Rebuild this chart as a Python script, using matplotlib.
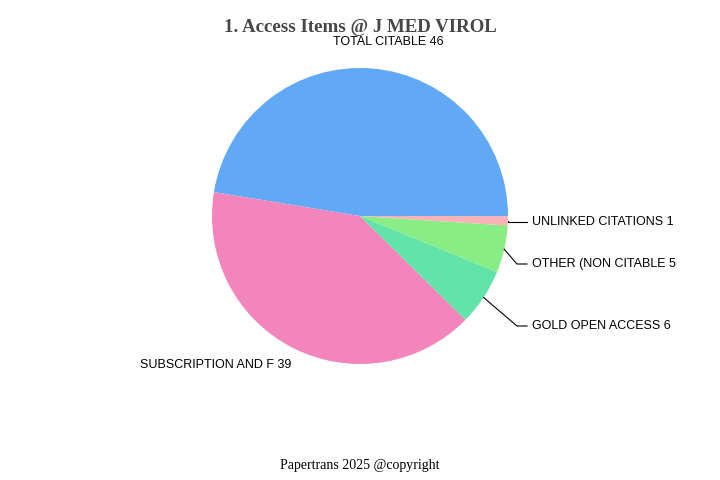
import matplotlib.pyplot as plt
import numpy as np

labels = ['TOTAL CITABLE', 'SUBSCRIPTION AND F', 'GOLD OPEN ACCESS',
          'OTHER (NON CITABLE', 'UNLINKED CITATIONS']
values = [46, 39, 6, 5, 1]
colors = ['#61a9f5', '#f385bd', '#62e3aa', '#88ed84', '#f8b3b6']

W, H = 720, 480
fig = plt.figure(figsize=(7.2, 4.8), dpi=100)
# pie centre ~ (360, 216) px from top, radius ~148 px
ax = fig.add_axes([212 / W, (H - 216 - 148) / H, 296 / W, 296 / H])
wedges, _ = ax.pie(values, colors=colors, startangle=0, counterclock=True,
                   radius=1, wedgeprops=dict(linewidth=0))
ax.set_xlim(-1, 1)
ax.set_ylim(-1, 1)
ax.set_aspect('equal')
ax.axis('off')


def px(x, y):
    # pixel coords (top origin) -> figure fraction
    return x / W, 1 - y / H


lab_font = dict(family='Liberation Sans', fontsize=9, color='#000000')

# labels without leader lines
fig.text(*px(388, 42), f'{labels[0]} {values[0]}', ha='center', va='center', **lab_font)
fig.text(*px(216, 365), f'{labels[1]} {values[1]}', ha='center', va='center', **lab_font)

# labels with leader lines (small slices on the right)
text_y = {2: 326, 3: 264, 4: 222}
for i in [2, 3, 4]:
    w = wedges[i]
    mid = np.deg2rad((w.theta1 + w.theta2) / 2)
    ex, ey = ax.transData.transform((np.cos(mid), np.sin(mid)))
    ey = H - ey
    ty = text_y[i]
    xs = [ex, 517 if abs(ty - ey) > 3 else ex, 527]
    ys = [ey, ty, ty]
    fx = [x / W for x in xs]
    fy = [1 - y / H for y in ys]
    fig.add_artist(plt.Line2D(fx, fy, transform=fig.transFigure, color='black', linewidth=0.8))
    fig.text(*px(532, ty), f'{labels[i]} {values[i]}', ha='left', va='center', **lab_font)

fig.text(*px(360, 27), '1. Access Items @ J MED VIROL', ha='center', va='center',
         family='Liberation Serif', fontsize=13.6, fontweight='bold', color='#464646')
fig.text(*px(360, 466), 'Papertrans 2025 @copyright', ha='center', va='center',
         family='Liberation Serif', fontsize=10, color='#000000')

fig.savefig('out.png', dpi=100)
plt.close()
